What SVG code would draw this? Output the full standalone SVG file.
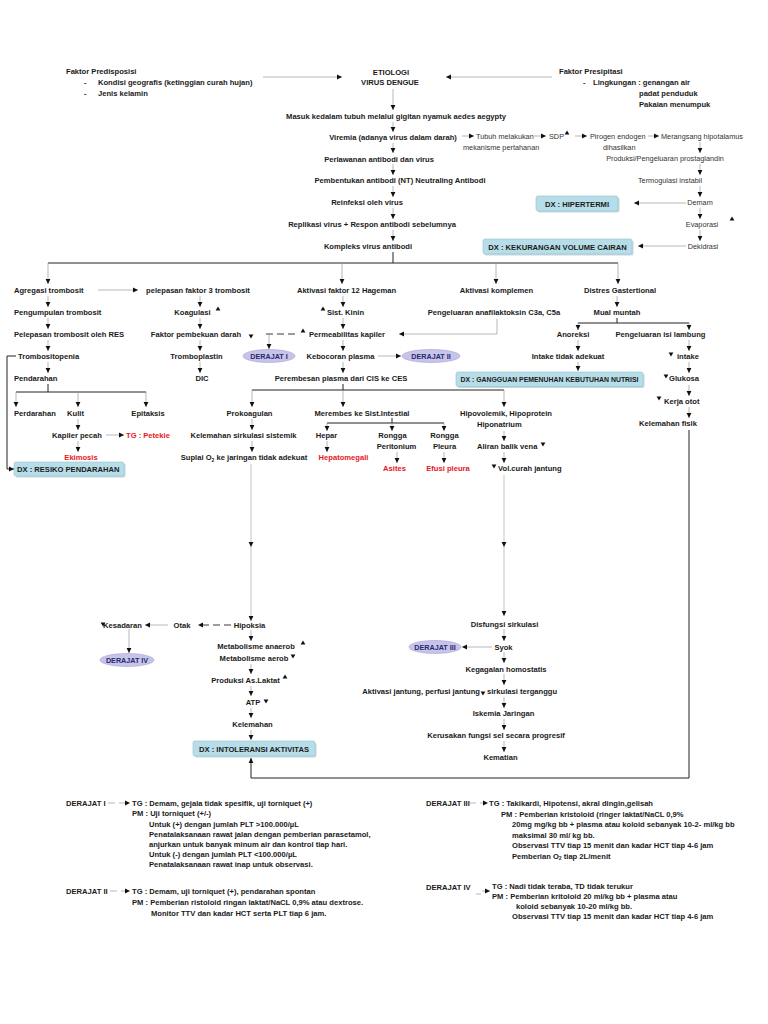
<svg xmlns="http://www.w3.org/2000/svg" xmlns:xlink="http://www.w3.org/1999/xlink" width="768" height="1024" viewBox="0 0 768 1024">
<style>
text{font-family:'Liberation Sans',Arial,sans-serif;font-size:7.6px;font-weight:bold;fill:#1a1a1a}
.c{text-anchor:middle}
.e{text-anchor:end}
.s{font-weight:normal;font-size:7.3px;fill:#333}
.red{fill:#e8151b}
.dx .b{fill:#b7dde8;stroke:#93c4d3;stroke-width:0.6}
.dx .sh{fill:#7fa7b4;opacity:.45}
.el ellipse{fill:#c8c3e8;stroke:#a49ed3;stroke-width:0.6}
.el text{fill:#1f2b6e;text-anchor:middle;font-size:7.2px}
.ln{stroke:#9a9a9a;stroke-width:0.7;fill:none}
.bk{stroke:#222;stroke-width:1;fill:none}
.lg{stroke:#c4c4c4;stroke-width:1;fill:none}
.ds{stroke:#222;stroke-width:0.9;fill:none;stroke-dasharray:7 4}
.tri{fill:#111}
</style>
<defs>
<marker id="a" markerUnits="userSpaceOnUse" markerWidth="6" markerHeight="6" refX="5" refY="3" orient="auto" viewBox="0 0 6 6"><path d="M0,0.6 L5,3 L0,5.4 z" fill="#111"/></marker>
<path id="tu" d="M0,-2.6 L2.4,1.6 L-2.4,1.6 z"/>
<path id="td" d="M0,2.6 L2.4,-1.6 L-2.4,-1.6 z"/>
</defs>
<rect width="768" height="1024" fill="#fff"/>

<g id="connectors">
<path class="ln" d="M263,77 H342" marker-end="url(#a)"/>
<path class="ln" d="M552,77 H446" marker-end="url(#a)"/>
<path class="ln" d="M393,89 V110" marker-end="url(#a)"/>
<path class="ln" d="M393,122 V132" marker-end="url(#a)"/>
<path class="ln" d="M393,143 V153" marker-end="url(#a)"/>
<path class="ln" d="M393,164 V175" marker-end="url(#a)"/>
<path class="ln" d="M393,186 V197" marker-end="url(#a)"/>
<path class="ln" d="M393,208 V219" marker-end="url(#a)"/>
<path class="ln" d="M393,230 V241" marker-end="url(#a)"/>
<path class="ln" d="M462,136 H474" marker-end="url(#a)"/>
<path class="ln" d="M534,136 H546" marker-end="url(#a)"/>
<path class="ln" d="M575,136 H587" marker-end="url(#a)"/>
<path class="ln" d="M648,136 H659" marker-end="url(#a)"/>
<path class="ln" d="M700,142 V153" marker-end="url(#a)"/>
<path class="ln" d="M700,164 V175" marker-end="url(#a)"/>
<path class="ln" d="M700,186 V197" marker-end="url(#a)"/>
<path class="ln" d="M686,203 H634" marker-end="url(#a)"/>
<path class="ln" d="M700,208 V219" marker-end="url(#a)"/>
<path class="ln" d="M700,230 V241" marker-end="url(#a)"/>
<path class="ln" d="M686,246 H638" marker-end="url(#a)"/>
<path class="bk" d="M393,252 V263 M48,263 H618"/>
<path class="ln" d="M48,263 V284" marker-end="url(#a)"/>
<path class="ln" d="M342,263 V284" marker-end="url(#a)"/>
<path class="ln" d="M496,263 V284" marker-end="url(#a)"/>
<path class="ln" d="M618,263 V284" marker-end="url(#a)"/>
<path class="ln" d="M98,290 H138" marker-end="url(#a)"/>
<path class="ln" d="M48,296 V307" marker-end="url(#a)"/>
<path class="ln" d="M48,318 V329" marker-end="url(#a)"/>
<path class="ln" d="M48,340 V351" marker-end="url(#a)"/>
<path class="ln" d="M48,362 V373" marker-end="url(#a)"/>
<path class="bk" d="M48,384 V392 M16,392 H146"/>
<path class="ln" d="M16,392 V407" marker-end="url(#a)"/>
<path class="ln" d="M78,392 V407" marker-end="url(#a)"/>
<path class="ln" d="M146,392 V407" marker-end="url(#a)"/>
<path class="ln" d="M78,419 V430" marker-end="url(#a)"/>
<path class="ln" d="M78,441 V452" marker-end="url(#a)"/>
<path class="ln" d="M106,435 H124" marker-end="url(#a)"/>
<path class="bk" d="M16,356 H7 V469 H14" marker-end="url(#a)"/>
<path class="ln" d="M200,296 V307" marker-end="url(#a)"/>
<path class="ln" d="M200,318 V329" marker-end="url(#a)"/>
<path class="ln" d="M200,340 V351" marker-end="url(#a)"/>
<path class="ln" d="M200,362 V373" marker-end="url(#a)"/>
<path class="ds" d="M266,334 H297"/>
<path class="ln" d="M269,334 V349" marker-end="url(#a)"/>
<path class="ln" d="M343,296 V307" marker-end="url(#a)"/>
<path class="ln" d="M343,318 V329" marker-end="url(#a)"/>
<path class="ln" d="M343,340 V351" marker-end="url(#a)"/>
<path class="ln" d="M343,362 V373" marker-end="url(#a)"/>
<path class="ln" d="M378,356 H401" marker-end="url(#a)"/>
<path class="bk" d="M343,384 V390 M252,390 H504"/>
<path class="ln" d="M252,390 V407" marker-end="url(#a)"/>
<path class="ln" d="M343,390 V407" marker-end="url(#a)"/>
<path class="ln" d="M504,390 V407" marker-end="url(#a)"/>
<path class="ln" d="M497,319 V334 H399" marker-end="url(#a)"/>
<path class="bk" d="M392,418 V423 M327,423 H444"/>
<path class="ln" d="M327,423 V431" marker-end="url(#a)"/>
<path class="ln" d="M392,423 V431" marker-end="url(#a)"/>
<path class="ln" d="M444,423 V431" marker-end="url(#a)"/>
<path class="ln" d="M327,441 V452" marker-end="url(#a)"/>
<path class="ln" d="M397,452 V463" marker-end="url(#a)"/>
<path class="ln" d="M444,452 V463" marker-end="url(#a)"/>
<path class="ln" d="M252,419 V430" marker-end="url(#a)"/>
<path class="ln" d="M252,441 V452" marker-end="url(#a)"/>
<polyline class="lg" points="251,464 251,547 251,621" marker-mid="url(#a)" marker-end="url(#a)"/>
<path class="ln" d="M504,431 V441" marker-end="url(#a)"/>
<path class="ln" d="M504,452 V463" marker-end="url(#a)"/>
<polyline class="lg" points="504,475 504,547 504,616" marker-mid="url(#a)" marker-end="url(#a)"/>
<path class="ln" d="M617,296 V307" marker-end="url(#a)"/>
<path class="bk" d="M617,318 V323 M578,323 H689"/>
<path class="ln" d="M578,323 V330" marker-end="url(#a)"/>
<path class="ln" d="M689,323 V330" marker-end="url(#a)"/>
<path class="ln" d="M578,340 V351" marker-end="url(#a)"/>
<path class="ln" d="M578,362 V371" marker-end="url(#a)"/>
<path class="ln" d="M689,340 V351" marker-end="url(#a)"/>
<path class="ln" d="M689,362 V373" marker-end="url(#a)"/>
<path class="ln" d="M689,385 V396" marker-end="url(#a)"/>
<path class="ln" d="M689,407 V418" marker-end="url(#a)"/>
<path class="bk" d="M689,430 V778 H251 V758" marker-end="url(#a)"/>
<path class="ln" d="M504,629 V641" marker-end="url(#a)"/>
<path class="ln" d="M504,652 V663" marker-end="url(#a)"/>
<path class="ln" d="M504,674 V685" marker-end="url(#a)"/>
<path class="ln" d="M504,697 V708" marker-end="url(#a)"/>
<path class="ln" d="M504,719 V730" marker-end="url(#a)"/>
<path class="ln" d="M504,741 V752" marker-end="url(#a)"/>
<path class="ln" d="M492,647 H462" marker-end="url(#a)"/>
<path class="ln" d="M251,630 V641" marker-end="url(#a)"/>
<path class="ln" d="M251,664 V674" marker-end="url(#a)"/>
<path class="ln" d="M251,686 V696" marker-end="url(#a)"/>
<path class="ln" d="M251,708 V718" marker-end="url(#a)"/>
<path class="ln" d="M251,730 V740" marker-end="url(#a)"/>
<path class="ds" d="M231,625 H198" marker-end="url(#a)"/>
<path class="ln" d="M168,625 H145" marker-end="url(#a)"/>
<path class="ln" d="M129,629 V653" marker-end="url(#a)"/>
<path class="ln" d="M108,803 H130" stroke-dasharray="7 4" marker-end="url(#a)"/>
<path class="ln" d="M110,891 H130" stroke-dasharray="7 4" marker-end="url(#a)"/>
<path class="ln" d="M470,803 H488" stroke-dasharray="6 4" marker-end="url(#a)"/>
<path class="ln" d="M476,894 H481"/>
<path class="ln" d="M482,891 H490" marker-end="url(#a)"/>
</g>

<g id="markers-inline" class="tri">
<use xlink:href="#tu" x="567" y="133"/>
<use xlink:href="#tu" x="732" y="219"/>
<use xlink:href="#tu" x="218" y="309"/>
<use xlink:href="#td" x="251" y="336"/>
<use xlink:href="#tu" x="323" y="309"/>
<use xlink:href="#tu" x="303" y="331"/>
<use xlink:href="#td" x="543" y="444"/>
<use xlink:href="#td" x="494" y="466"/>
<use xlink:href="#td" x="671" y="354"/>
<use xlink:href="#td" x="666" y="376"/>
<use xlink:href="#td" x="659" y="398"/>
<use xlink:href="#td" x="103" y="624"/>
<use xlink:href="#tu" x="303" y="643"/>
<use xlink:href="#td" x="293" y="656"/>
<use xlink:href="#tu" x="285" y="677"/>
<use xlink:href="#td" x="266" y="701"/>
<use xlink:href="#td" x="483" y="693"/>
</g>

<g id="faktor-predisposisi"><text x="66" y="74">Faktor Predisposisi</text><text x="84" y="85">-</text><text x="98" y="85">Kondisi geografis (ketinggian curah hujan)</text><text x="84" y="96">-</text><text x="98" y="96">Jenis kelamin</text></g>
<g id="etiologi"><text class="c" x="391" y="74.5">ETIOLOGI</text><text class="c" x="390" y="85">VIRUS DENGUE</text></g>
<g id="faktor-presipitasi"><text x="559" y="74">Faktor Presipitasi</text><text x="583" y="85">-</text><text x="593" y="85">Lingkungan : genangan air</text><text x="639" y="96">padat penduduk</text><text x="639" y="107">Pakaian menumpuk</text></g>
<g id="masuk"><text class="c" x="396" y="119">Masuk kedalam tubuh melalui gigitan nyamuk aedes aegypty</text></g>
<g id="viremia"><text class="c" x="393" y="140">Viremia (adanya virus dalam darah)</text></g>
<g id="tubuh"><text class="s" x="476" y="139">Tubuh melakukan</text><text class="s" x="463" y="149.5">mekanisme pertahanan</text></g>
<g id="sdp"><text class="s" x="549" y="139">SDP</text></g>
<g id="pirogen"><text class="s" x="590" y="139">Pirogen endogen</text><text class="s" x="603" y="149.5">dihasilkan</text></g>
<g id="hipotalamus"><text class="s" x="661" y="139">Merangsang hipotalamus</text></g>
<g id="prostaglandin"><text class="s c" x="665" y="161">Produksi/Pengeluaran prostaglandin</text></g>
<g id="termogulasi"><text class="s c" x="670" y="183">Termogulasi instabil</text></g>
<g id="demam"><text class="s c" x="700" y="205">Demam</text></g>
<g id="evaporasi"><text class="s c" x="702" y="227">Evaporasi</text></g>
<g id="dekidrasi"><text class="s c" x="703" y="249">Dekidrasi</text></g>
<g id="perlawanan"><text class="c" x="379" y="161.5">Perlawanan antibodi dan virus</text></g>
<g id="pembentukan"><text class="c" x="400" y="183">Pembentukan antibodi (NT) Neutraling Antibodi</text></g>
<g id="reinfeksi"><text class="c" x="367" y="204.5">Reinfeksi oleh virus</text></g>
<g id="replikasi"><text class="c" x="372" y="226.5">Replikasi virus + Respon antibodi sebelumnya</text></g>
<g id="kompleks"><text class="c" x="368" y="249">Kompleks virus antibodi</text></g>
<g id="dx-hipertermi" class="dx"><rect class="sh" x="537.5" y="197.5" width="82" height="15" rx="2"/><rect class="b" x="536" y="196" width="82" height="15" rx="2"/><text class="c" x="577" y="206.5">DX : HIPERTERMI</text></g>
<g id="dx-kekurangan" class="dx"><rect class="sh" x="484.5" y="240.5" width="149" height="15" rx="2"/><rect class="b" x="483" y="239" width="149" height="15" rx="2"/><text class="c" x="557.5" y="249.5">DX : KEKURANGAN VOLUME CAIRAN</text></g>

<g id="agregasi"><text x="14" y="293">Agregasi trombosit</text></g>
<g id="pengumpulan"><text x="14" y="315">Pengumpulan trombosit</text></g>
<g id="pelepasan-res"><text x="14" y="337">Pelepasan trombosit oleh RES</text></g>
<g id="trombositopenia"><text x="18" y="359">Trombositopenia</text></g>
<g id="pendarahan"><text x="14" y="381">Pendarahan</text></g>
<g id="perdarahan"><text x="14" y="416">Perdarahan</text></g>
<g id="kulit"><text class="c" x="75.5" y="416">Kulit</text></g>
<g id="epitaksis"><text class="c" x="148" y="416">Epitaksis</text></g>
<g id="kapiler-pecah"><text class="c" x="77" y="438">Kapiler pecah</text></g>
<g id="petekie"><text class="red" x="126" y="438">TG : Petekie</text></g>
<g id="ekimosis"><text class="c red" x="81" y="460">Ekimosis</text></g>
<g id="dx-resiko" class="dx"><rect class="sh" x="15.5" y="463.5" width="110" height="14" rx="2"/><rect class="b" x="14" y="462" width="110" height="14" rx="2"/><text x="17" y="471.8">DX : RESIKO PENDARAHAN</text></g>

<g id="pelepasan-f3"><text class="c" x="198" y="293">pelepasan faktor 3 trombosit</text></g>
<g id="koagulasi"><text class="c" x="192.5" y="315">Koagulasi</text></g>
<g id="faktor-pembekuan"><text class="c" x="196" y="337">Faktor pembekuan darah</text></g>
<g id="tromboplastin"><text class="c" x="196.5" y="359">Tromboplastin</text></g>
<g id="dic"><text class="c" x="202" y="381">DIC</text></g>
<g id="derajat1" class="el"><ellipse cx="269" cy="356" rx="26" ry="6.5"/><text x="269" y="358.7">DERAJAT I</text></g>
<g id="prokoagulan"><text class="c" x="249.5" y="416">Prokoagulan</text></g>
<g id="kelemahan-sirkulasi"><text class="c" x="243.5" y="438">Kelemahan sirkulasi sistemik</text></g>
<g id="suplai"><text class="c" x="244" y="460">Suplai O<tspan font-size="5" dy="1.5">2</tspan><tspan dy="-1.5"> ke jaringan tidak adekuat</tspan></text></g>

<g id="aktivasi-f12"><text class="c" x="346.5" y="293">Aktivasi faktor 12 Hageman</text></g>
<g id="kinin"><text class="c" x="345.5" y="315">Sist. Kinin</text></g>
<g id="permeabilitas"><text class="c" x="347" y="337">Permeabilitas kapiler</text></g>
<g id="kebocoran"><text class="c" x="340.5" y="359">Kebocoran plasma</text></g>
<g id="derajat2" class="el"><ellipse cx="431" cy="356" rx="29" ry="6.5"/><text x="431" y="358.7">DERAJAT II</text></g>
<g id="perembesan"><text class="c" x="341" y="381">Perembesan plasma dari CIS ke CES</text></g>
<g id="merembes"><text class="c" x="362" y="416">Merembes ke Sist.Intestial</text></g>
<g id="hepar"><text class="c" x="326.5" y="438">Hepar</text></g>
<g id="peritonium"><text class="c" x="392.5" y="438">Rongga</text><text class="c" x="396.5" y="449">Peritonium</text></g>
<g id="pleura"><text class="c" x="444.5" y="438">Rongga</text><text class="c" x="444.5" y="449">Pleura</text></g>
<g id="hepatomegali"><text class="c red" x="343.5" y="460">Hepatomegali</text></g>
<g id="asites"><text class="c red" x="394.5" y="471">Asites</text></g>
<g id="efusi"><text class="c red" x="448" y="471">Efusi pleura</text></g>

<g id="aktivasi-komplemen"><text class="c" x="496.5" y="293">Aktivasi komplemen</text></g>
<g id="anafilaktoksin"><text class="c" x="494" y="315">Pengeluaran anafilaktoksin C3a, C5a</text></g>
<g id="dx-nutrisi" class="dx"><rect class="sh" x="457.5" y="373.5" width="187" height="14.5" rx="2"/><rect class="b" x="456" y="372" width="187" height="14.5" rx="2"/><text class="c" x="549.5" y="381.8" style="font-size:6.9px">DX : GANGGUAN PEMENUHAN KEBUTUHAN NUTRISI</text></g>
<g id="hipovolemik"><text x="460" y="416">Hipovolemik, Hipoprotein</text><text x="477" y="427">Hiponatrium</text></g>
<g id="aliran"><text x="477" y="449">Aliran balik vena</text></g>
<g id="volcurah"><text x="498" y="471">Vol.curah jantung</text></g>

<g id="distres"><text class="c" x="620" y="293">Distres Gastertional</text></g>
<g id="mual"><text class="c" x="617" y="315">Mual muntah</text></g>
<g id="anoreksi"><text class="c" x="573" y="337">Anoreksi</text></g>
<g id="isi-lambung"><text class="c" x="660.5" y="337">Pengeluaran isi lambung</text></g>
<g id="intake-tidak"><text class="c" x="568" y="359">Intake tidak adekuat</text></g>
<g id="intake"><text x="677" y="359">intake</text></g>
<g id="glukosa"><text x="669" y="381">Glukosa</text></g>
<g id="kerja-otot"><text x="664" y="404">Kerja otot</text></g>
<g id="kelemahan-fisik"><text class="c" x="668" y="426">Kelemahan fisik</text></g>

<g id="hipoksia"><text class="c" x="249.5" y="627.7">Hipoksia</text></g>
<g id="otak"><text class="c" x="182" y="627.7">Otak</text></g>
<g id="kesadaran"><text class="c" x="122.5" y="627.7">Kesadaran</text></g>
<g id="derajat4" class="el"><ellipse cx="127" cy="660" rx="27" ry="6.5"/><text x="127" y="662.7">DERAJAT IV</text></g>
<g id="metabolisme"><text class="c" x="256" y="649">Metabolisme anaerob</text><text class="c" x="254" y="661">Metabolisme aerob</text></g>
<g id="laktat"><text class="c" x="245.5" y="683">Produksi As.Laktat</text></g>
<g id="atp"><text class="c" x="253" y="705">ATP</text></g>
<g id="kelemahan"><text class="c" x="252.5" y="727">Kelemahan</text></g>
<g id="dx-intoleransi" class="dx"><rect class="sh" x="194.5" y="742.5" width="122" height="15" rx="2"/><rect class="b" x="193" y="741" width="122" height="15" rx="2"/><text class="c" x="254" y="751.5">DX : INTOLERANSI AKTIVITAS</text></g>

<g id="disfungsi"><text class="c" x="504.5" y="627">Disfungsi sirkulasi</text></g>
<g id="syok"><text class="c" x="503.5" y="649.5">Syok</text></g>
<g id="derajat3" class="el"><ellipse cx="435" cy="647" rx="26" ry="6.5"/><text x="435" y="649.7">DERAJAT III</text></g>
<g id="kegagalan"><text class="c" x="506" y="671.5">Kegagalan homostatis</text></g>
<g id="aktivasi-jantung"><text class="e" x="480" y="693.5">Aktivasi jantung, perfusi jantung</text><text x="487" y="693.5">sirkulasi terganggu</text></g>
<g id="iskemia"><text class="c" x="503.5" y="716">Iskemia Jaringan</text></g>
<g id="kerusakan"><text class="c" x="496" y="737.5">Kerusakan fungsi sel secara progresif</text></g>
<g id="kematian"><text class="c" x="500.5" y="759.5">Kematian</text></g>

<g id="legend-derajat1">
<text x="66" y="806">DERAJAT I</text>
<text x="132" y="806">TG : Demam, gejala tidak spesifik, uji torniquet (+)</text>
<text x="132" y="816">PM : Uji torniquet (+/-)</text>
<text x="149" y="826.5">Untuk (+) dengan jumlah PLT &gt;100.000/µL</text>
<text x="149" y="836.5">Penatalaksanaan rawat jalan dengan pemberian parasetamol,</text>
<text x="149" y="846.5">anjurkan untuk banyak minum air dan kontrol tiap hari.</text>
<text x="149" y="857">Untuk (-) dengan jumlah PLT &lt;100.000/µL</text>
<text x="149" y="867">Penatalaksanaan rawat inap untuk observasi.</text>
</g>
<g id="legend-derajat2">
<text x="66" y="893.5">DERAJAT II</text>
<text x="132" y="893.5">TG : Demam, uji torniquet (+), pendarahan spontan</text>
<text x="132" y="905">PM : Pemberian ristoloid ringan laktat/NaCL 0,9% atau dextrose.</text>
<text x="151" y="915.5">Monitor TTV dan kadar HCT serta PLT tiap 6 jam.</text>
</g>
<g id="legend-derajat3">
<text x="426" y="806">DERAJAT III</text>
<text x="489" y="806">TG : Takikardi, Hipotensi, akral dingin,gelisah</text>
<text x="501" y="816.5">PM : Pemberian kristoloid (ringer laktat/NaCL 0,9%</text>
<text x="512" y="827">20mg mg/kg bb + plasma atau koloid sebanyak 10-2- ml/kg bb</text>
<text x="512" y="837.5">maksimal 30 ml/ kg bb.</text>
<text x="512" y="848">Observasi TTV tiap 15 menit dan kadar HCT tiap 4-6 jam</text>
<text x="512" y="858.5">Pemberian O<tspan font-size="5" dy="1.5">2</tspan><tspan dy="-1.5"> tiap 2L/menit</tspan></text>
</g>
<g id="legend-derajat4">
<text x="426" y="890">DERAJAT IV</text>
<text x="492" y="889">TG : Nadi tidak teraba, TD tidak terukur</text>
<text x="492" y="899">PM : Pemberian kritoloid 20 ml/kg bb + plasma atau</text>
<text x="516" y="908.5">koloid sebanyak 10-20 ml/kg bb.</text>
<text x="512" y="918.5">Observasi TTV tiap 15 menit dan kadar HCT tiap 4-6 jam</text>
</g>
</svg>
